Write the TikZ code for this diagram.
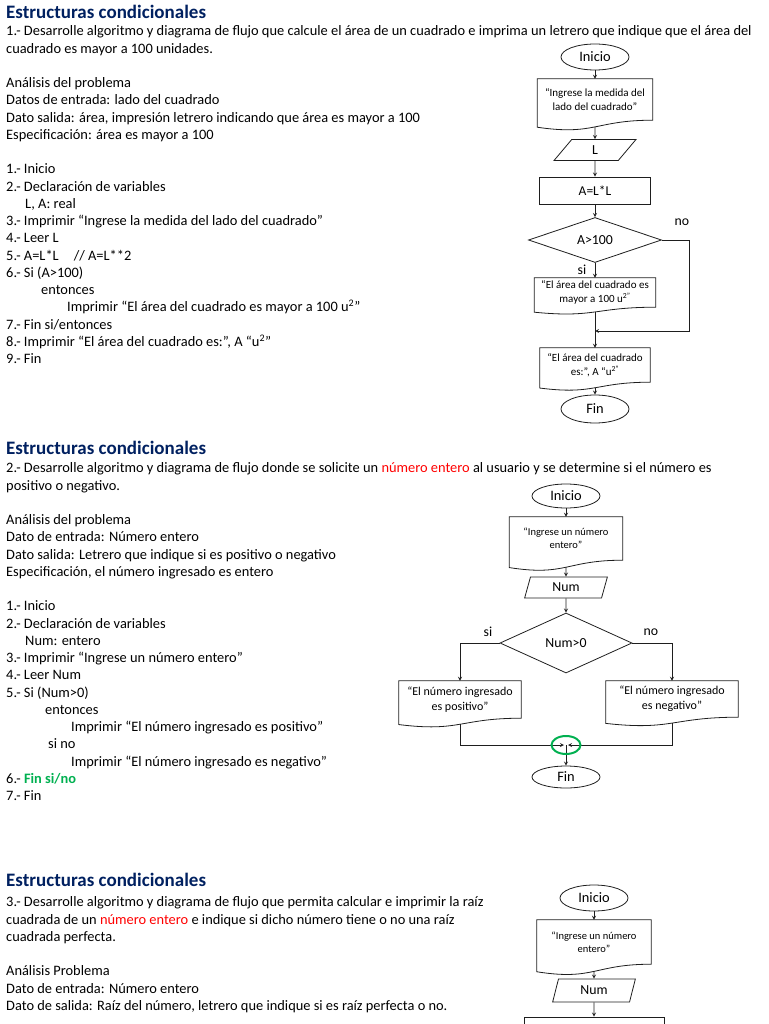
\documentclass[tikz,border=0pt]{standalone}
\usepackage{fontspec}
\setmainfont{Carlito}
\usepackage{tikz}
\usetikzlibrary{arrows,shapes.geometric,positioning,calc}
\usepackage{xcolor}
\definecolor{titleblue}{RGB}{0,32,96}
\definecolor{okgreen}{RGB}{0,176,80}
\definecolor{linegray}{RGB}{30,30,30}
\tikzstyle{flowline} = [line width=0.8pt, color=linegray]
\tikzstyle{arrow} = [flowline, ->, >=stealth]
\tikzstyle{title} = [anchor=west, inner sep=0pt, text=titleblue, font=\fontsize{19}{22}\selectfont\bfseries]
\tikzstyle{body} = [anchor=north west, inner sep=0pt, align=left, font=\fontsize{14.4}{17.25}\selectfont]
\tikzstyle{terminal} = [ellipse, draw=linegray, line width=0.8pt, minimum width=68pt, minimum height=26pt, inner sep=0pt, font=\fontsize{14.4}{17}\selectfont]
\tikzstyle{process} = [rectangle, draw=linegray, line width=0.8pt, inner sep=0pt, font=\fontsize{13.5}{16}\selectfont]
\tikzstyle{decision} = [diamond, draw=linegray, line width=0.8pt, aspect=3, inner sep=0pt, font=\fontsize{13.8}{16}\selectfont]
\tikzstyle{inputbox} = [trapezium, trapezium left angle=76, trapezium right angle=104, trapezium stretches=true, draw=linegray, line width=0.8pt, inner sep=0pt, font=\fontsize{13.8}{16}\selectfont]
\tikzstyle{docbox} = [rectangle, align=center, inner sep=0pt, font=\fontsize{11}{14}\selectfont]
\tikzstyle{tag} = [inner sep=0pt, font=\fontsize{13.8}{16}\selectfont]
% wavy bottom of a document box, plus the point under its middle
\newcommand{\docborder}[1]{%
  \draw[flowline] (#1.north west) -- (#1.north east) -- (#1.south east)
    .. controls (#1.south) and ($(#1.south)!-0.375!(#1.north)$)
    .. ($(#1.south west)!-0.17!(#1.north west)$) -- cycle;
  \coordinate (#1-b) at ($(#1.south)!-0.16!(#1.north)$);}

\begin{document}
\begin{tikzpicture}[x=1pt, y=-1pt]
    \useasboundingbox (0,0) rectangle (768,1024);
    \clip (0,0) rectangle (768,1024);

    % ---- problema 1 ----
    \node[title] (tit1) at (6,12) {Estructuras condicionales};
    \node[body] (txt1) at (6,23.6) {\strut 1.- Desarrolle algoritmo y diagrama de flujo que calcule el área de un cuadrado e imprima un letrero que indique que el área del\\
cuadrado es mayor a 100 unidades.\\[17.25pt]
Análisis del problema\\
Datos de entrada: lado del cuadrado\\
Dato salida: área, impresión letrero indicando que área es mayor a 100\\
Especificación: área es mayor a 100\\[17.25pt]
1.- Inicio\\
2.- Declaración de variables\\
\hspace*{19pt}L, A: real\\
3.- Imprimir “Ingrese la medida del lado del cuadrado”\\
4.- Leer L\\
5.- A=L*L\hspace*{15pt}// A=L**2\\
6.- Si (A>100)\\
\hspace*{35pt}entonces\\
\hspace*{61pt}Imprimir “El área del cuadrado es mayor a 100 u\textsuperscript{2}”\\
7.- Fin si/entonces\\
8.- Imprimir “El área del cuadrado es:”, A “u\textsuperscript{2}”\\
9.- Fin};

    \node[terminal] (ini1) at (595,57) {Inicio};
    \node[docbox, minimum width=115pt, minimum height=41pt] (doc1) at (595,99.5) {“Ingrese la medida del\\lado del cuadrado”};
    \docborder{doc1}
    \node[inputbox, minimum width=82pt, minimum height=21pt] (in1) at (595,150) {L};
    \node[process, minimum width=111pt, minimum height=27pt] (area1) at (595,190.5) {A=L*L};
    \node[decision, minimum width=133pt, minimum height=45pt] (cond1) at (595,240) {A>100};
    \node[docbox, minimum width=121pt, minimum height=29pt] (res1) at (595,292.5) {“El área del cuadrado es\\mayor a 100 u\textsuperscript{2”}};
    \docborder{res1}
    \coordinate (join1) at (595,331);
    \node[docbox, minimum width=110pt, minimum height=34pt] (out1) at (595,365) {“El área del cuadrado\\es:”, A “u\textsuperscript{2”}};
    \docborder{out1}
    \node[terminal, minimum height=28pt] (fin1) at (595,409) {Fin};
    \node[tag] (si1) at (582,270) {si};
    \node[tag] (no1) at (682,222) {no};

    \draw[arrow] (ini1) -- (doc1);
    \draw[arrow] (doc1-b) -- (in1);
    \draw[arrow] (in1) -- (area1);
    \draw[arrow] (area1) -- (cond1);
    \draw[arrow] (cond1) -- (res1);
    \draw[arrow] (cond1.east) -- ++(27,0) |- (join1);
    \draw[arrow] (res1-b) -- (out1);
    \draw[arrow] (out1-b) -- (fin1);

    % ---- problema 2 ----
    \node[title] (tit2) at (6,448) {Estructuras condicionales};
    \node[body] (txt2) at (6,460.6) {\strut 2.- Desarrolle algoritmo y diagrama de flujo donde se solicite un {\color{red}número entero} al usuario y se determine si el número es\\
positivo o negativo.\\[17.25pt]
Análisis del problema\\
Dato de entrada: Número entero\\
Dato salida: Letrero que indique si es positivo o negativo\\
Especificación, el número ingresado es entero\\[17.25pt]
1.- Inicio\\
2.- Declaración de variables\\
\hspace*{19pt}Num: entero\\
3.- Imprimir “Ingrese un número entero”\\
4.- Leer Num\\
5.- Si (Num>0)\\
\hspace*{39pt}entonces\\
\hspace*{65pt}Imprimir “El número ingresado es positivo”\\
\hspace*{42pt}si no\\
\hspace*{65pt}Imprimir “El número ingresado es negativo”\\
6.- {\color{okgreen}\bfseries Fin si/no}\\
7.- Fin};

    \node[terminal, minimum height=24pt] (ini2) at (566,496) {Inicio};
    \node[docbox, minimum width=113pt, minimum height=43pt, font=\fontsize{10.5}{13}\selectfont] (doc2) at (566,538.5) {“Ingrese un número\\entero”};
    \docborder{doc2}
    \node[inputbox, minimum width=83pt, minimum height=21pt] (in2) at (566,587.5) {Num};
    \node[decision, minimum width=132pt, minimum height=60pt] (cond2) at (566,643) {Num>0};
    \node[docbox, minimum width=122pt, minimum height=37pt, font=\fontsize{12}{15}\selectfont] (pos2) at (460,699.5) {“El número ingresado\\es positivo”};
    \docborder{pos2}
    \node[docbox, minimum width=132pt, minimum height=36pt, font=\fontsize{12}{15}\selectfont] (neg2) at (672,699) {“El número ingresado\\es negativo”};
    \docborder{neg2}
    \coordinate (join2) at (566,745);
    \node[terminal, minimum height=22pt] (fin2) at (566,777) {Fin};
    \node[tag] (si2) at (488,632) {si};
    \node[tag] (no2) at (651,632) {no};

    \draw[arrow] (ini2) -- (doc2);
    \draw[arrow] (doc2-b) -- (in2);
    \draw[arrow] (in2) -- (cond2);
    \draw[arrow] (cond2.west) -| (pos2.north);
    \draw[arrow] (cond2.east) -| (neg2.north);
    \draw[arrow] (pos2-b) |- ([xshift=-2pt]join2);
    \draw[arrow] (neg2-b) |- ([xshift=2pt]join2);
    \draw[arrow] (join2) -- (fin2);
    \node[ellipse, draw=okgreen, line width=2pt, minimum width=29pt, minimum height=18pt] (mark2) at (join2) {};

    % ---- problema 3 ----
    \node[title] (tit3) at (6,880) {Estructuras condicionales};
    \node[body] (txt3) at (6,894.6) {\strut 3.- Desarrolle algoritmo y diagrama de flujo que permita calcular e imprimir la raíz\\
cuadrada de un {\color{red}número entero} e indique si dicho número tiene o no una raíz\\
cuadrada perfecta.\\[17.25pt]
Análisis Problema\\
Dato de entrada: Número entero\\
Dato de salida: Raíz del número, letrero que indique si es raíz perfecta o no.};

    \node[terminal] (ini3) at (594,898) {Inicio};
    \node[docbox, minimum width=114pt, minimum height=44pt, font=\fontsize{10.5}{13}\selectfont] (doc3) at (594,942) {“Ingrese un número\\entero”};
    \docborder{doc3}
    \node[inputbox, minimum width=83pt, minimum height=23pt] (in3) at (594,990.5) {Num};
    \node[process, minimum width=140pt, minimum height=40pt] (calc3) at (594,1037) {};

    \draw[arrow] (ini3) -- (doc3);
    \draw[arrow] (doc3-b) -- (in3);
    \draw[arrow] (in3) -- (calc3);
\end{tikzpicture}
\end{document}
